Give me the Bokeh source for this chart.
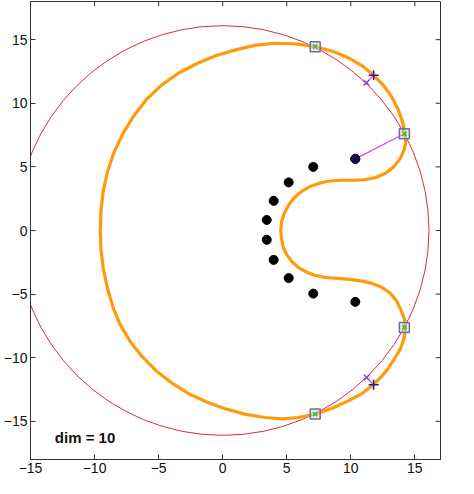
from bokeh.plotting import figure
from bokeh.models import FixedTicker, Range1d
from bokeh.embed import file_html
from bokeh.resources import INLINE
from bokeh.core.properties import value

# ---- data ----
tick_values = [-15, -10, -5, 0, 5, 10, 15]
x_lo, x_hi = -15, 17
y_lo, y_hi = -18, 18

circle_cx, circle_cy, circle_r = 0.0, 0.0, 16.1

curve_x = [-9.55, -9.5, -9.32, -9.0, -8.5, -7.8, -6.95, -5.95, -4.75, -3.4, -1.95, -0.5,
           1.0, 2.5, 4.0, 5.6, 7.22, 8.7, 9.96, 10.95, 11.78, 12.55, 13.2, 13.7,
           14.05, 14.22, 14.28, 14.15, 13.85, 13.35, 12.7, 11.9, 11.1, 10.35, 9.55, 8.8,
           8.1, 7.5, 6.8, 6.2, 5.6, 5.15, 4.8, 4.6, 4.53,
           4.6, 4.72, 5.0, 5.4, 5.9, 6.5, 7.1, 7.76, 8.4, 9.06, 9.7, 10.35,
           11.0, 11.65, 12.4, 13.1, 13.55, 13.9, 14.2, 14.27, 14.15, 13.85, 13.45, 12.95,
           12.42, 11.78, 10.9, 9.84, 8.6, 7.24, 5.9, 4.66, 3.3, 1.8, 0.26, -1.2,
           -2.59, -3.95, -5.18, -6.3, -7.24, -8.0, -8.54, -8.98, -9.32, -9.5, -9.55]
curve_y = [0.0, 1.6, 3.1, 4.6, 6.1, 7.6, 9.0, 10.3, 11.45, 12.4, 13.15, 13.75,
           14.2, 14.55, 14.72, 14.68, 14.45, 14.05, 13.5, 12.9, 12.2, 11.4, 10.5, 9.5,
           8.5, 7.6, 6.9, 6.3, 5.65, 5.0, 4.5, 4.15, 4.0, 3.95, 3.95, 3.93,
           3.85, 3.7, 3.45, 3.1, 2.6, 2.0, 1.35, 0.7, 0.0,
           -0.65, -1.3, -1.9, -2.45, -2.9, -3.25, -3.5, -3.64, -3.72, -3.77, -3.82, -3.9,
           -4.0, -4.16, -4.45, -4.95, -5.5, -6.2, -7.0, -7.7, -8.5, -9.35, -10.0, -10.8,
           -11.45, -12.1, -12.8, -13.37, -13.95, -14.42, -14.7, -14.8, -14.7, -14.45, -14.03, -13.5,
           -12.86, -12.0, -11.04, -9.9, -8.7, -7.4, -6.1, -4.6, -2.99, -1.5, 0.0]

dots_x = [10.35, 7.07, 5.15, 3.98, 3.44, 3.44, 3.98, 5.15, 7.07, 10.35]
dots_y = [5.63, 5.0, 3.78, 2.33, 0.83, -0.73, -2.31, -3.74, -4.96, -5.61]

square_x = [7.22, 14.18, 14.18, 7.22]
square_y = [14.45, 7.6, -7.62, -14.43]

plus_x = [11.78, 11.78]
plus_y = [12.2, -12.13]
xmark_x = [11.22, 11.24]
xmark_y = [11.62, -11.56]

link_x = [10.35, 14.18]
link_y = [5.63, 7.6]

label_text = "dim = 10"
label_x, label_y = -13.1, -16.3

# ---- figure ----
p = figure(frame_width=410, frame_height=458, x_range=Range1d(x_lo, x_hi), y_range=Range1d(y_lo, y_hi),
           output_backend="svg", toolbar_location=None,
           min_border_left=20, min_border_right=10, min_border_top=1, min_border_bottom=10)
p.grid.visible = False
p.outline_line_color = "#333333"
p.background_fill_color = "white"

for ax in (p.xaxis[0], p.yaxis[0]):
    ax.ticker = FixedTicker(ticks=tick_values)
    ax.major_tick_in = 5
    ax.major_tick_out = 0
    ax.minor_tick_line_color = None
    ax.axis_line_color = "#333333"
    ax.major_tick_line_color = "#333333"
    ax.major_label_text_font = "Liberation Sans"
    ax.major_label_text_font_size = "14px"
    ax.major_label_text_color = "#111111"
    ax.major_label_standoff = 3

# inward ticks on the top and right edges of the box
tick_len_y = 0.38
tick_len_x = 0.38
p.segment(x0=tick_values, y0=[y_hi] * len(tick_values), x1=tick_values,
          y1=[y_hi - tick_len_y] * len(tick_values), line_color="#333333", line_width=1)
p.segment(x0=[x_hi] * len(tick_values), y0=tick_values, x1=[x_hi - tick_len_x] * len(tick_values),
          y1=tick_values, line_color="#333333", line_width=1)

# red circle
p.ellipse(x=[circle_cx], y=[circle_cy], width=[2 * circle_r], height=[2 * circle_r],
          fill_color=None, line_color="#e0283c", line_width=1)

# orange curve
p.line(curve_x, curve_y, line_color="#ff9a0a", line_width=3.2, line_join="round")

# magenta connectors
p.line(link_x, link_y, line_color="#e040f0", line_width=1.2)
for i in range(len(plus_x)):
    p.line([xmark_x[i], plus_x[i]], [xmark_y[i], plus_y[i]], line_color="#e040f0", line_width=1.2)

# dots
p.scatter(dots_x, dots_y, size=9, marker="circle", fill_color="black", line_color="black")
p.scatter(dots_x[:1], dots_y[:1], size=9, marker="circle", fill_color="#14104a", line_color="#14104a")

# squares with green marks
p.scatter(square_x, square_y, size=10, marker="square", fill_color="#c8d8c0", fill_alpha=0.5,
          line_color="#6c6cb4", line_width=1.5)
p.scatter(square_x, square_y, size=6, marker="x", line_color="#30c030", line_width=1.5)

# plus / x markers
p.scatter(xmark_x, xmark_y, size=8, marker="x", line_color="#6a40f0", line_width=1.3)
p.scatter(plus_x, plus_y, size=10, marker="cross", line_color="#301890", line_width=1.6)

p.text(x=[label_x], y=[label_y], text=[label_text], text_font=value("Liberation Sans"),
       text_font_size="15px", text_font_style="bold", text_baseline="middle",
       text_align="left", text_color="#111111")

open("out.html", "w").write(file_html(p, INLINE))
